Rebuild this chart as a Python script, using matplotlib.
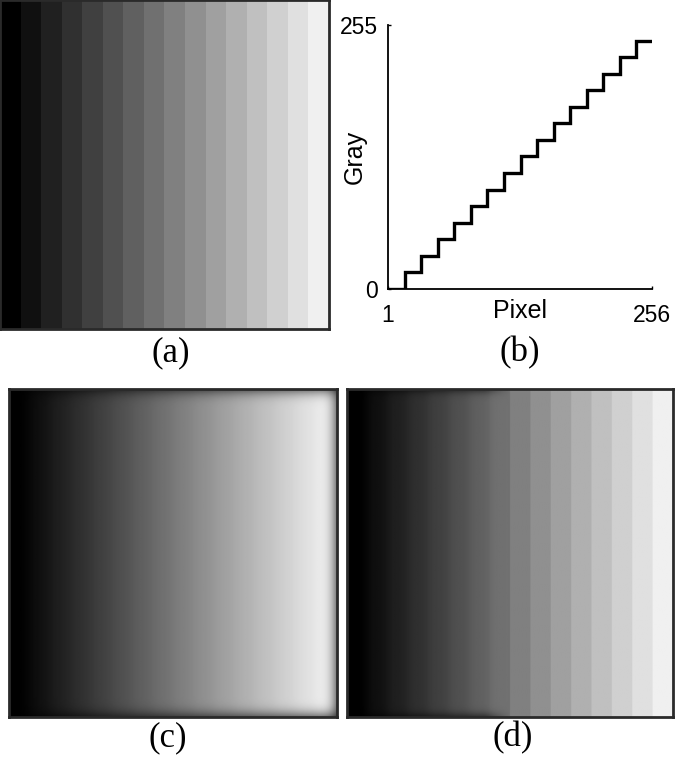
import numpy as np
import matplotlib
matplotlib.use("Agg")
import matplotlib.pyplot as plt

# gray level of each of the 16 strips (0..240, step 16)
levels = [0, 16, 32, 48, 64, 80, 96, 112, 128, 144, 160, 176, 192, 208, 224, 240]
# pixel column where each strip starts, plus the last pixel
step_edges = [1, 17, 33, 49, 65, 81, 97, 113, 129, 145, 161, 177, 193, 209, 225, 241, 256]
strip_width = 16
img_size = 256

x_ticks = [1, 256]
y_ticks = [0, 255]
panel_labels = ["(a)", "(b)", "(c)", "(d)"]

W, H = 685, 760


def px_axes(fig, x0, y0, x1, y1):
    # axes from pixel box (top-left origin)
    return fig.add_axes([x0 / W, 1 - y1 / H, (x1 - x0) / W, (y1 - y0) / H])


def blur(img, sigma):
    r = int(3 * sigma)
    t = np.arange(-r, r + 1)
    k = np.exp(-t**2 / (2 * sigma**2))
    k /= k.sum()
    out = np.apply_along_axis(lambda v: np.convolve(v, k, mode="same"), 1, img)
    out = np.apply_along_axis(lambda v: np.convolve(v, k, mode="same"), 0, out)
    return out


def show_img(ax, data, interp):
    ax.imshow(data, cmap="gray", vmin=0, vmax=255, aspect="auto",
              interpolation=interp)
    ax.set_xticks([])
    ax.set_yticks([])
    for s in ax.spines.values():
        s.set_color("#2a2a2a")
        s.set_linewidth(2.0)


# source image: vertical strips
row = np.repeat(np.array(levels, dtype=float), strip_width)
img = np.tile(row, (img_size, 1))

# (c) fully smoothed, (d) only the left half smoothed
img_c = blur(img, 5.5)
cols = np.arange(img_size)
w = np.clip((128 - cols) / 20.0, 0, 1)[None, :]
img_d = w * blur(img, 4.0) + (1 - w) * img

fig = plt.figure(figsize=(W / 100, H / 100), dpi=100)

ax_a = px_axes(fig, 0, 0, 329, 329)
show_img(ax_a, img, "nearest")

ax_c = px_axes(fig, 9, 389, 337, 717)
show_img(ax_c, img_c, "bilinear")

ax_d = px_axes(fig, 347, 389, 673, 717)
show_img(ax_d, img_d, "bilinear")

# (b) gray profile
sans = "Liberation Sans"
ax_b = px_axes(fig, 388, 25, 652, 289)
ax_b.stairs(levels, step_edges, baseline=None, color="black", linewidth=2.4)
ax_b.set_xlim(1, 256)
ax_b.set_ylim(0, 255)
ax_b.spines["top"].set_visible(False)
ax_b.spines["right"].set_visible(False)
for s in ("left", "bottom"):
    ax_b.spines[s].set_linewidth(1.3)
ax_b.set_xticks(x_ticks)
ax_b.set_yticks(y_ticks)
ax_b.tick_params(axis="both", direction="in", length=2.5, width=1.0,
                 labelsize=16.5)
ax_b.tick_params(axis="x", pad=11)
ax_b.tick_params(axis="y", pad=7.5)
for lab in ax_b.get_xticklabels() + ax_b.get_yticklabels():
    lab.set_family(sans)
ax_b.set_xlabel("Pixel", fontsize=18, family=sans)
ax_b.set_ylabel("Gray", fontsize=18, family=sans)
ax_b.xaxis.set_label_coords(0.5, -0.038)
ax_b.yaxis.set_label_coords(-0.08, 0.5)

# panel captions
serif = "Liberation Serif"
label_pos = [(171, 353), (520, 353), (168, 738), (513, 738)]
for txt, (lx, ly) in zip(panel_labels, label_pos):
    fig.text(lx / W, 1 - ly / H, txt, ha="center", va="center",
             fontsize=25, family=serif)

fig.savefig("out.png", dpi=100)
